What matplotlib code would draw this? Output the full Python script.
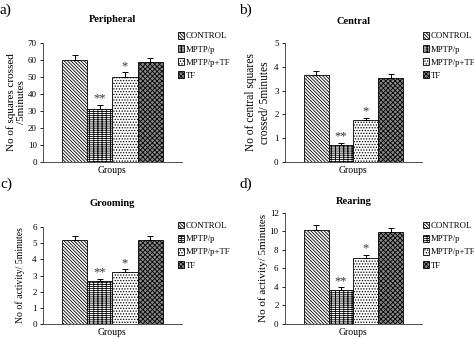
import matplotlib
matplotlib.use("Agg")
import matplotlib.pyplot as plt
import numpy as np

plt.rcParams['font.family'] = ['Liberation Serif', 'DejaVu Serif']
plt.rcParams['hatch.linewidth'] = 0.6

# groups and data
groups = ['CONTROL', 'MPTP/p', 'MPTP/p+TF', 'TF']

peripheral = [60, 31, 50, 59]
peripheral_err = [3, 2.5, 2.7, 2.5]

central = [3.65, 0.7, 1.78, 3.55]
central_err = [0.18, 0.09, 0.08, 0.17]

grooming = [5.2, 2.65, 3.2, 5.2]
grooming_err = [0.22, 0.12, 0.18, 0.22]

rearing = [10.2, 3.7, 7.1, 9.9]
rearing_err = [0.5, 0.25, 0.35, 0.5]

stars = ['', '**', '*', '']

hatches = ['\\' * 10, '-' * 8 + '||||', '.' * 6, 'x' * 7]
faces = ['white', 'white', 'white', '#888888']

fig = plt.figure(figsize=(4.74, 3.39), dpi=100)


def panel(rect, vals, errs, title, tpad, ylabel, ymax, ystep, letter, lpos, yl_size, ylabel_x, lsp):
    ax = fig.add_axes(rect)
    x = np.arange(len(vals))
    bars = ax.bar(x, vals, width=1.0, color=faces, edgecolor='black', linewidth=0.6,
                  hatch=hatches, label=groups)
    ax.errorbar(x, vals, yerr=[np.zeros(len(errs)), errs], fmt='none', ecolor='black',
                elinewidth=0.7, capsize=2.5, capthick=0.7)
    for i in range(len(vals)):
        if stars[i]:
            ax.text(x[i], vals[i] + errs[i] + ymax * 0.005, stars[i], ha='center', va='bottom',
                    fontsize=9, color='#333333')
    ax.set_xlim(-1.26, 4.26)
    ax.set_ylim(0, ymax)
    ax.set_yticks(np.arange(0, ymax + 0.01, ystep))
    ax.tick_params(axis='y', labelsize=6.5, length=2.5, width=0.6, pad=2)
    ax.set_xticks([])
    for s in ['top', 'right']:
        ax.spines[s].set_visible(False)
    for s in ['left', 'bottom']:
        ax.spines[s].set_linewidth(0.6)
        ax.spines[s].set_color('#333333')
    ax.set_xlabel('Groups', fontsize=7, labelpad=3)
    ax.set_ylabel(ylabel, fontsize=yl_size, linespacing=lsp)
    ax.yaxis.set_label_coords(ylabel_x, 0.5)
    ax.set_title(title, fontsize=7.5, fontweight='bold', pad=tpad)
    fig.text(letter[1], letter[2], letter[0], fontsize=11, ha='left', va='center')
    fig.legend(handles=bars.patches, labels=groups, loc='upper left', bbox_to_anchor=lpos,
               frameon=False, fontsize=6.3, handlelength=0.75, handleheight=0.75,
               handletextpad=0.15, labelspacing=0.55, borderpad=0, borderaxespad=0)
    return ax


panel([0.0907, 0.522, 0.293, 0.351], peripheral, peripheral_err, 'Peripheral', 15,
      'No of squares crossed\n/5minutes', 70, 10, ('a)', 0.0, 0.97), (0.375, 0.905), 8, -0.12, 1.2)
panel([0.601, 0.522, 0.289, 0.351], central, central_err, 'Central', 14,
      'No of central squares\ncrossed/ 5minutes', 5, 1, ('b)', 0.505, 0.97), (0.892, 0.905), 8.3, -0.1, 1.25)
panel([0.0907, 0.0442, 0.293, 0.286], grooming, grooming_err, 'Grooming', 15,
      'No of activity/ 5minutes', 6, 1, ('c)', 0.0, 0.455), (0.375, 0.345), 7, -0.13, 1.0)
panel([0.601, 0.0442, 0.289, 0.328], rearing, rearing_err, 'Rearing', 6,
      'No of activity/ 5minutes', 12, 2, ('d)', 0.505, 0.455), (0.892, 0.345), 8, -0.125, 1.0)

fig.savefig('out.png', dpi=100)
